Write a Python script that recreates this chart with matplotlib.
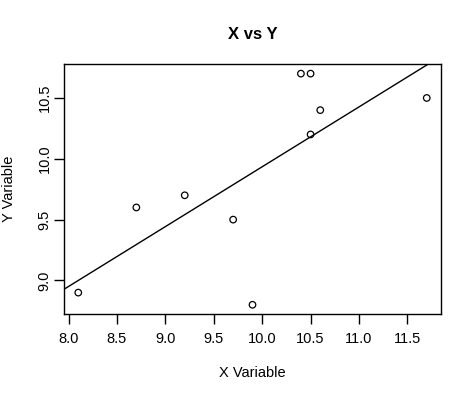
"""
Scatter of X against Y with a least-squares fit line, in the look of an R base plot.
"""

import matplotlib

matplotlib.use("Agg")
import matplotlib.pyplot as plt
import numpy as np

x_values = [8.1, 8.7, 9.2, 9.7, 9.9, 10.4, 10.5, 10.6, 10.5, 11.7]
y_values = [8.9, 9.6, 9.7, 9.5, 8.8, 10.7, 10.7, 10.4, 10.2, 10.5]
x_ticks = [8.0, 8.5, 9.0, 9.5, 10.0, 10.5, 11.0, 11.5]
y_ticks = [9.0, 9.5, 10.0, 10.5]


def main():
    plt.rcParams["font.family"] = ["Liberation Sans", "DejaVu Sans"]

    fig = plt.figure(figsize=(4.74, 3.95), dpi=100)
    ax = fig.add_axes([0.1357, 0.205, 0.794, 0.632])

    x = np.array(x_values)
    y = np.array(y_values)

    # R pads the data range by 4% on each side
    xpad = (x.max() - x.min()) * 0.04
    ypad = (y.max() - y.min()) * 0.04
    xlim = (x.min() - xpad, x.max() + xpad)
    ylim = (y.min() - ypad, y.max() + ypad)

    ax.scatter(x, y, s=22, facecolors="none", edgecolors="black", linewidths=0.9, zorder=3)

    # abline(lm(y ~ x))
    slope, intercept = np.polyfit(x, y, 1)
    line_x = np.array([xlim[0] - 1, xlim[1] + 1])
    ax.plot(line_x, intercept + slope * line_x, color="black", linewidth=1.0)

    ax.set_xlim(xlim)
    ax.set_ylim(ylim)
    ax.set_xticks(x_ticks)
    ax.set_xticklabels([f"{t:.1f}" for t in x_ticks])
    ax.set_yticks(y_ticks)
    ax.set_yticklabels([f"{t:.1f}" for t in y_ticks], rotation=90, va="center")
    ax.tick_params(direction="out", length=7, width=1.0, labelsize=10.5, colors="black")
    ax.tick_params(axis="x", pad=6)
    ax.tick_params(axis="y", pad=2)
    for spine in ax.spines.values():
        spine.set_linewidth(1.0)

    ax.set_xlabel("X Variable", fontsize=10.5)
    ax.set_ylabel("Y Variable", fontsize=10.5)
    ax.xaxis.set_label_coords(0.5, -0.208)
    ax.yaxis.set_label_coords(-0.128, 0.5)
    ax.set_title("X vs Y", fontsize=12, fontweight="bold", pad=18)

    fig.savefig("out.png", dpi=100)


if __name__ == "__main__":
    main()
